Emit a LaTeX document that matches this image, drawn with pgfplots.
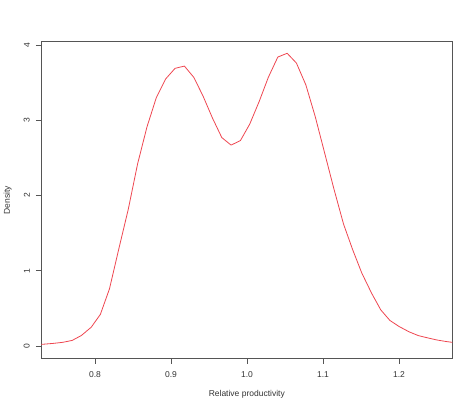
\documentclass[border=0pt]{standalone}
\usepackage{fontspec}
\setmainfont{Liberation Sans}
\usepackage{pgfplots}
\pgfplotsset{compat=1.18}
\definecolor{framegray}{RGB}{85,85,85}
\definecolor{curvered}{RGB}{238,70,80}
\begin{document}
\begin{tikzpicture}
\useasboundingbox (-41.3pt,-51.7pt) rectangle (432.7pt,358.3pt);
\begin{axis}[
    at={(0,0)}, anchor=south west,
    scale only axis,
    width=411pt, height=316.6pt,
    xmin=0.7293, xmax=1.2701,
    ymin=-0.163, ymax=4.044,
    xtick={0.8,0.9,1.0,1.1,1.2},
    ytick={0,1,2,3,4},
    xtick pos=bottom, ytick pos=left,
    tick align=outside,
    major tick length=5.3pt,
    axis line style={framegray, line width=0.7pt},
    every tick/.style={framegray, line width=0.7pt},
    font=\fontsize{8.5}{10}\selectfont,
    /pgf/number format/assume math mode=true,
    xticklabel={\pgfmathprintnumber[fixed,fixed zerofill,precision=1]{\tick}},
    yticklabel={\pgfmathprintnumber[fixed,precision=0]{\tick}},
    xticklabel style={anchor=base, inner sep=0pt, yshift=-13.4pt, text=black!80},
    yticklabel style={rotate=90, anchor=south, inner sep=0pt, yshift=6pt, text=black!80},
    xlabel={Relative productivity},
    ylabel={Density},
    xlabel style={at={(axis description cs:0.5,0)}, anchor=base, inner sep=0pt, yshift=-38.4pt, text=black!80},
    ylabel style={at={(axis description cs:0,0.5)}, anchor=base, inner sep=0pt, yshift=31.3pt, text=black!80},
]
\addplot[curvered, line width=0.8pt, line join=round] coordinates {
(0.7293,0.022) (0.733,0.025) (0.745,0.035) (0.758,0.050) (0.770,0.075)
(0.782,0.14) (0.795,0.25) (0.807,0.42) (0.819,0.76) (0.8315,1.30)
(0.8438,1.82) (0.856,2.42) (0.8683,2.91) (0.8806,3.30) (0.893,3.55)
(0.9053,3.69) (0.9176,3.72) (0.930,3.57) (0.9422,3.32) (0.9545,3.03)
(0.9668,2.77) (0.979,2.67) (0.9913,2.73) (1.0036,2.95) (1.016,3.25)
(1.028,3.57) (1.0405,3.84) (1.0528,3.89) (1.065,3.76) (1.0774,3.47)
(1.0897,3.05) (1.102,2.57) (1.114,2.10) (1.127,1.62) (1.139,1.28)
(1.151,0.97) (1.164,0.70) (1.176,0.48) (1.188,0.34) (1.200,0.26)
(1.213,0.19) (1.225,0.14) (1.237,0.11) (1.250,0.08) (1.262,0.06)
(1.2701,0.049)
};
\end{axis}
\end{tikzpicture}
\end{document}
